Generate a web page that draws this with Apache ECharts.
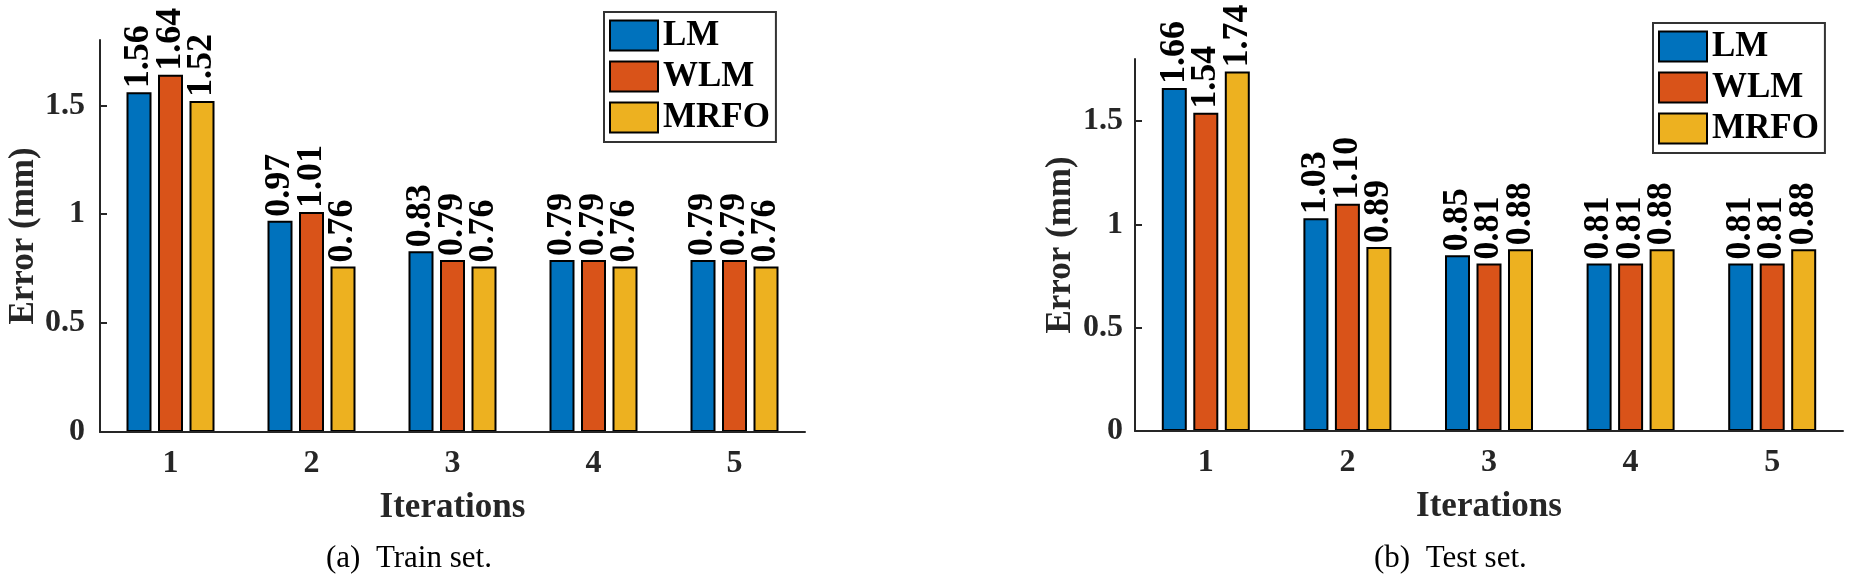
<!DOCTYPE html>
<html>
<head>
<meta charset="utf-8">
<script src="https://cdn.jsdelivr.net/npm/echarts@6/dist/echarts.min.js"></script>
<style>
  html, body { margin: 0; padding: 0; background: #fff; }
  #main { width: 1852px; height: 575px; }
</style>
</head>
<body>
<div id="main"></div>
<script>
// iterations on the x axis
const categories = ["1", "2", "3", "4", "5"];
const seriesNames = ["LM", "WLM", "MRFO"];
const yTicks = [0, 0.5, 1, 1.5];

// (a) train set
const trainLM = [1.56, 0.97, 0.83, 0.79, 0.79];
const trainWLM = [1.64, 1.01, 0.79, 0.79, 0.79];
const trainMRFO = [1.52, 0.76, 0.76, 0.76, 0.76];

// (b) test set
const testLM = [1.66, 1.03, 0.85, 0.81, 0.81];
const testWLM = [1.54, 1.10, 0.81, 0.81, 0.81];
const testMRFO = [1.74, 0.89, 0.88, 0.88, 0.88];

const colors = ["#0072BD", "#D95319", "#EDB120"];
const serif = '"Liberation Serif", "DejaVu Serif", serif';
const axisColor = "#262626";

const chart = echarts.init(document.getElementById("main"));

const xAxisOf = (gridIndex) => ({
  type: "category",
  gridIndex: gridIndex,
  data: categories,
  z: 5,
  name: "Iterations",
  nameLocation: "middle",
  nameGap: 58,
  nameTextStyle: { fontFamily: serif, fontWeight: "bold", fontSize: 35, color: axisColor },
  axisLine: { lineStyle: { color: axisColor, width: 2 } },
  axisTick: { inside: true, length: 7, alignWithLabel: true, lineStyle: { color: axisColor, width: 2 } },
  axisLabel: { fontFamily: serif, fontWeight: "bold", fontSize: 32, color: axisColor, margin: 16 },
});

const yAxisOf = (gridIndex, labelMargin) => ({
  type: "value",
  gridIndex: gridIndex,
  min: 0,
  max: 1.8,
  name: "Error (mm)",
  nameLocation: "middle",
  nameGap: 57,
  nameTextStyle: { fontFamily: serif, fontWeight: "bold", fontSize: 35, color: axisColor },
  splitLine: { show: false },
  axisLine: { show: true, lineStyle: { color: axisColor, width: 2 } },
  axisTick: { show: true, inside: true, length: 7, customValues: yTicks, lineStyle: { color: axisColor, width: 2 } },
  axisLabel: {
    fontFamily: serif, fontWeight: "bold", fontSize: 32, color: axisColor,
    margin: labelMargin, customValues: yTicks,
  },
});

const barOf = (name, data, idx, axisIndex) => ({
  name: name,
  type: "bar",
  xAxisIndex: axisIndex,
  yAxisIndex: axisIndex,
  data: data,
  barWidth: 25,
  barGap: "26%",
  itemStyle: { color: colors[idx], borderColor: "#000", borderWidth: 2 },
  label: {
    show: true,
    position: "top",
    rotate: 90,
    align: "left",
    verticalAlign: "middle",
    distance: 4,
    fontFamily: serif,
    fontWeight: "bold",
    fontSize: 36,
    color: "#000",
    formatter: (p) => p.value.toFixed(2),
  },
});

const legendOf = (left, top) => ({
  orient: "vertical",
  left: left,
  top: top,
  data: seriesNames,
  icon: "rect",
  itemWidth: 48,
  itemHeight: 30,
  itemGap: 6,
  padding: [6, 6, 7, 5],
  borderColor: "#333",
  borderWidth: 2,
  backgroundColor: "#fff",
  textStyle: { fontFamily: serif, fontWeight: "bold", fontSize: 35, color: "#000", lineHeight: 30 },
});

const option = {
  animation: false,
  backgroundColor: "#fff",
  title: [
    {
      text: "(a)  Train set.",
      left: 326,
      top: 543,
      padding: 0,
      textStyle: { fontFamily: serif, fontWeight: "normal", fontSize: 31, color: "#000" },
    },
    {
      text: "(b)  Test set.",
      left: 1374,
      top: 543,
      padding: 0,
      textStyle: { fontFamily: serif, fontWeight: "normal", fontSize: 31, color: "#000" },
    },
  ],
  legend: [legendOf(604, 12), legendOf(1653, 23)],
  grid: [
    { left: 100, top: 40, width: 705, height: 392 },
    { left: 1135, top: 59, width: 708, height: 372 },
  ],
  xAxis: [xAxisOf(0), xAxisOf(1)],
  yAxis: [yAxisOf(0, 15), yAxisOf(1, 12)],
  series: [
    barOf("LM", trainLM, 0, 0),
    barOf("WLM", trainWLM, 1, 0),
    barOf("MRFO", trainMRFO, 2, 0),
    barOf("LM", testLM, 0, 1),
    barOf("WLM", testWLM, 1, 1),
    barOf("MRFO", testMRFO, 2, 1),
  ],
};

chart.setOption(option);
</script>
</body>
</html>
